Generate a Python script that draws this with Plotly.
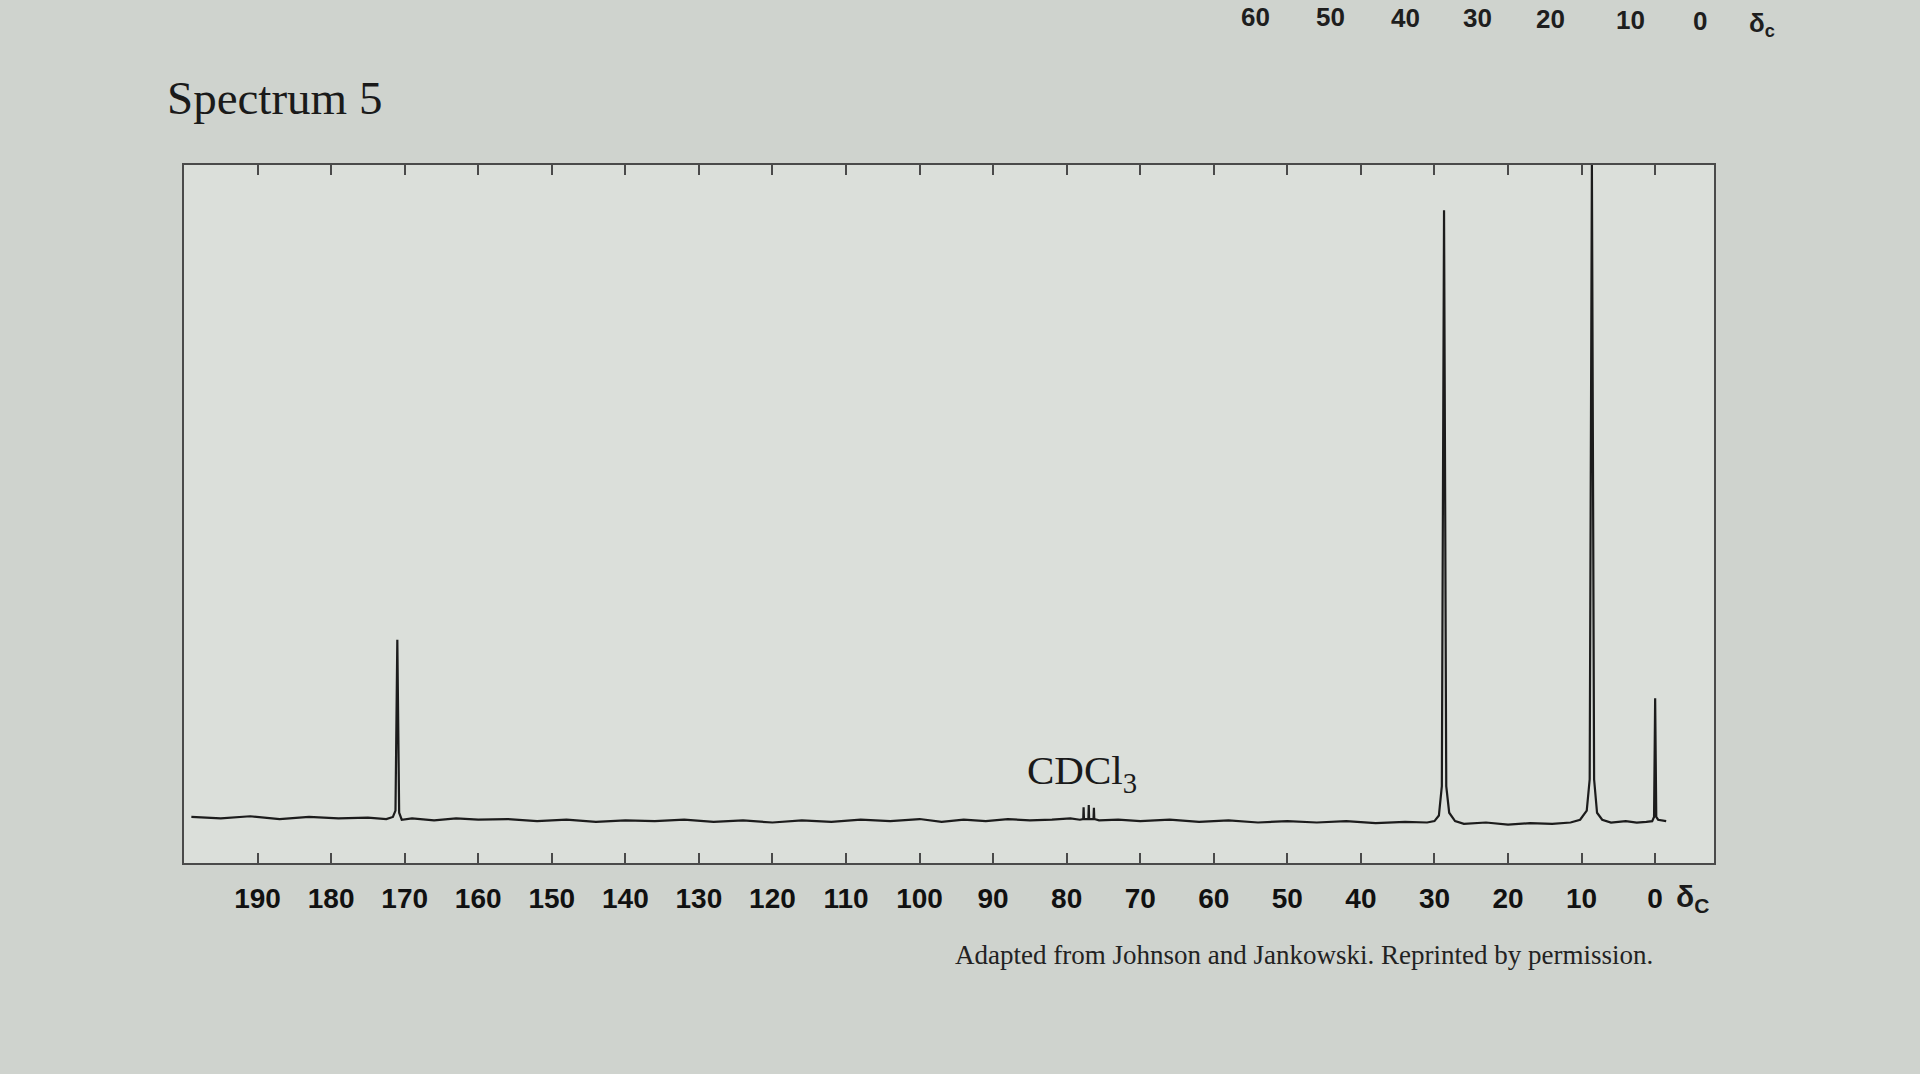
import plotly.graph_objects as go

# ---- data (13C NMR, Spectrum 5) ----
shift_ppm = [199, 195, 191, 187, 183, 179, 175, 172.5, 171.6, 171.25, 171.0, 170.75, 170.4,
             169, 166, 163, 160, 156, 152, 148, 144, 140, 136, 132, 128, 124, 120, 116, 112,
             108, 104, 100, 97, 94, 91, 88, 85, 82, 79.5, 78.2,
             77.75, 77.7, 77.65, 77.05, 77.0, 76.95, 76.35, 76.3, 76.25, 75.6,
             73, 70, 66, 62, 58, 54, 50, 46, 42, 38, 34, 31,
             30.0, 29.4, 29.0, 28.7, 28.4, 28.0, 27.2, 26, 23, 20, 17, 14, 11.5,
             10.2, 9.3, 8.9, 8.6, 8.3, 7.9, 7.2, 6, 4, 2.5, 1.2, 0.4, 0.15, 0.0, -0.15, -0.4, -1.5]
intensity = [0.066, 0.064, 0.067, 0.063, 0.066, 0.064, 0.065, 0.063, 0.066, 0.075, 0.320, 0.072, 0.062,
             0.064, 0.061, 0.064, 0.062, 0.063, 0.060, 0.062, 0.059, 0.061, 0.060, 0.062, 0.059, 0.061, 0.058, 0.061, 0.059,
             0.062, 0.060, 0.063, 0.059, 0.062, 0.060, 0.063, 0.061, 0.062, 0.064, 0.062,
             0.063, 0.080, 0.063, 0.063, 0.083, 0.063, 0.063, 0.079, 0.063, 0.061,
             0.062, 0.060, 0.062, 0.059, 0.061, 0.058, 0.060, 0.058, 0.060, 0.057, 0.059, 0.058,
             0.060, 0.068, 0.110, 0.935, 0.110, 0.072, 0.060, 0.056, 0.058, 0.055, 0.057, 0.056, 0.058,
             0.062, 0.075, 0.120, 1.000, 0.120, 0.072, 0.062, 0.058, 0.060, 0.058, 0.059, 0.060, 0.066, 0.236, 0.066, 0.062, 0.060]

tick_vals = [190, 180, 170, 160, 150, 140, 130, 120, 110, 100, 90, 80, 70, 60, 50, 40, 30, 20, 10, 0]
tick_text = [str(v) for v in tick_vals]

# labels of the previous spectrum's axis, seen at the top edge of the photo
top_labels = ["60", "50", "40", "30", "20", "10", "0", "δ<sub>c</sub>"]

title_text = "Spectrum 5"
solvent_label = "CDCl<sub>3</sub>"
credit_text = "Adapted from Johnson and Jankowski. Reprinted by permission."

# ---- layout geometry ----
W, H = 1920, 1074
L, R, T, B = 184, 206, 165, 211
pw, ph = W - L - R, H - T - B


def px_x(px):
    return (px - L) / pw


def px_y(py):
    return (H - B - py) / ph


fig = go.Figure()
fig.add_trace(go.Scatter(
    x=shift_ppm, y=intensity, mode="lines",
    line=dict(color="#1c1c1c", width=2.2),
    hoverinfo="skip", showlegend=False, cliponaxis=True,
))

anns = [
    dict(text=title_text, x=px_x(165), y=px_y(98), xref="paper", yref="paper",
         xanchor="left", yanchor="middle", showarrow=False,
         font=dict(family="Liberation Serif", size=47, color="#1a1a1a")),
    dict(text=solvent_label, x=77.9, y=px_y(773), xref="x", yref="paper",
         xanchor="center", yanchor="middle", showarrow=False,
         font=dict(family="Liberation Serif", size=41, color="#1a1a1a")),
    dict(text="δ<sub>C</sub>", x=px_x(1692), y=px_y(898), xref="paper", yref="paper",
         xanchor="center", yanchor="middle", showarrow=False,
         font=dict(family="Liberation Sans", size=30, color="#1a1a1a", weight="bold")),
    dict(text=credit_text, x=px_x(953), y=px_y(955), xref="paper", yref="paper",
         xanchor="left", yanchor="middle", showarrow=False,
         font=dict(family="Liberation Serif", size=27, color="#222222")),
]

top_px = [1255, 1330, 1405, 1477, 1550, 1630, 1700, 1762]
top_top = [0, 0, 1, 1, 2, 3, 4, 6]
for lab, xp, yt in zip(top_labels, top_px, top_top):
    anns.append(dict(text=lab, x=px_x(xp), y=px_y(yt), xref="paper", yref="paper",
                     xanchor="center", yanchor="top", showarrow=False,
                     font=dict(family="Liberation Sans", size=26, color="#1e1e1e", weight="bold")))

fig.update_layout(
    width=W, height=H,
    margin=dict(l=L, r=R, t=T, b=B, pad=0),
    paper_bgcolor="#cfd3ce",
    plot_bgcolor="#dbdfda",
    annotations=anns,
    xaxis=dict(
        range=[200, -8], tickmode="array", tickvals=tick_vals, ticktext=tick_text,
        ticks="inside", ticklen=10, tickwidth=1.5, tickcolor="#4a4a4a",
        showline=True, linecolor="#4a4a4a", linewidth=1.5, mirror="ticks",
        showgrid=False, zeroline=False, ticklabelstandoff=10,
        tickfont=dict(family="Liberation Sans", size=28, color="#111111", weight="bold"),
    ),
    yaxis=dict(
        range=[0, 1.0], showticklabels=False, ticks="", showgrid=False, zeroline=False,
        showline=True, linecolor="#4a4a4a", linewidth=1.5, mirror=True,
    ),
)

fig.write_html("out.html",
               config={"displayModeBar": False},
               post_script="document.body.style.margin='0';document.body.style.overflow='hidden';")
